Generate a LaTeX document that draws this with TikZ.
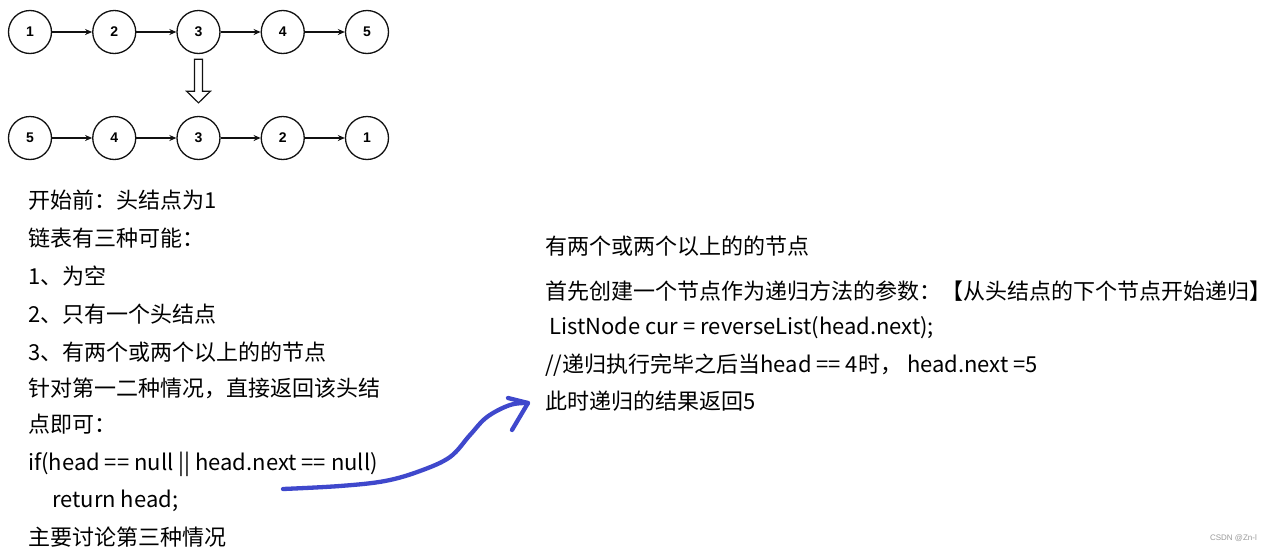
\documentclass[tikz,border=0pt]{standalone}
\usepackage{fontspec}
\setmainfont{Noto Sans CJK SC}
\newfontfamily\numfont{Liberation Sans}
\usetikzlibrary{arrows.meta, calc}
\definecolor{penblue}{HTML}{3F48CC}
\definecolor{wmgray}{HTML}{9A9A9A}
\definecolor{inkblack}{HTML}{111111}

\begin{document}
\begin{tikzpicture}[
  x=1pt, y=-1pt,
  >={Stealth[length=7pt, width=6pt]},
  lnode/.style={circle, draw=inkblack, line width=1.3pt, minimum size=43pt,
    inner sep=0pt, font=\numfont\bfseries\fontsize{14}{14}\selectfont},
  link/.style={->, inkblack, line width=1.2pt},
  txt/.style={anchor=base west, inner sep=0pt, font=\fontsize{22}{22}\selectfont},
  pen/.style={penblue, line width=4.3pt, line cap=round, line join=round},
]

% ══════════════════════════════════════════════════════
% Page
% ══════════════════════════════════════════════════════
\fill[white] (0,0) rectangle (1270,552);
\useasboundingbox (0,0) rectangle (1270,552);

% ══════════════════════════════════════════════════════
% Linked lists (before / after)
% ══════════════════════════════════════════════════════
\pgfmathsetmacro{\dx}{84.25}

\foreach \v [count=\i] in {1,2,3,4,5}{
  \node[lnode] (a\i) at ({30+\dx*(\i-1)}, 32) {\v};
}
\foreach \v [count=\i] in {5,4,3,2,1}{
  \node[lnode] (b\i) at ({30+\dx*(\i-1)}, 138) {\v};
}

\foreach \i/\j in {1/2, 2/3, 3/4, 4/5}{
  \draw[link] (a\i) -- (a\j);
  \draw[link] (b\i) -- (b\j);
}

% Hollow arrow between the two lists
\draw[inkblack, line width=1.2pt, line join=miter]
  ($(a3.south)+(-4,5)$) -- ++(8,0) -- ++(0,32) -- ++(8,0)
  -- ($(b3.north)+(0,-13)$) -- ($(a3.south)+(-12,37)$) -- ++(8,0) -- cycle;

% ══════════════════════════════════════════════════════
% Left notes
% ══════════════════════════════════════════════════════
\node[txt] (l1) at (28,208) {开始前：头结点为1};
\node[txt] (l2) at (28,246) {链表有三种可能：};
\node[txt] (l3) at (28,284) {1、为空};
\node[txt] (l4) at (28,322) {2、只有一个头结点};
\node[txt] (l5) at (28,360) {3、有两个或两个以上的的节点};
\node[txt] (l6) at (28,396) {针对第一二种情况，直接返回该头结};
\node[txt] (l7) at (28,432) {点即可：};
\node[txt] (l8) at (28,470) {if(head == null || head.next == null)};
\node[txt] (l9) at (52,507) {return head;};
\node[txt] (l10) at (28,545) {主要讨论第三种情况};

% ══════════════════════════════════════════════════════
% Right notes
% ══════════════════════════════════════════════════════
\node[txt] (r1) at (545,254) {有两个或两个以上的的节点};
\node[txt] (r2) at (545,299) {首先创建一个节点作为递归方法的参数：【从头结点的下个节点开始递归】};
\node[txt] (r3) at (549,334) {ListNode cur = reverseList(head.next);};
\node[txt] (r4) at (545,372) {//递归执行完毕之后当head == 4时， head.next =5};
\node[txt] (r5) at (545,409) {此时递归的结果返回5};

% ══════════════════════════════════════════════════════
% Hand-drawn pen arrow
% ══════════════════════════════════════════════════════
\coordinate (penstart) at (283,489);
\coordinate (pentip) at (528,403);

\draw[pen] plot[smooth, tension=0.6] coordinates {
  (penstart) (340,486) (385,481) (420,471) (450,457)
  (470,435) (487,417) (510,405) (pentip)};
\draw[pen] (508,398) -- (pentip) -- (512,430);

% Watermark
\node[anchor=east, inner sep=0pt, wmgray, font=\numfont\fontsize{8}{8}\selectfont]
  (mark) at (1257,538) {CSDN @Zn-l};

\end{tikzpicture}
\end{document}
